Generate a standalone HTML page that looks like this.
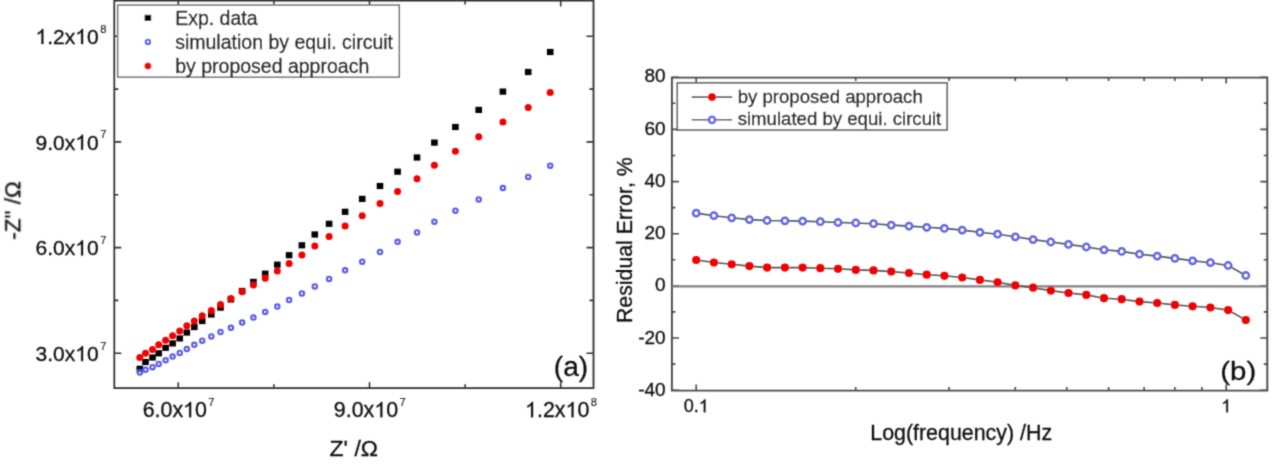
<!DOCTYPE html>
<html><head><meta charset="utf-8"><style>
html,body{margin:0;padding:0;background:#fff;}
body{width:1280px;height:464px;overflow:hidden;}
svg{display:block;}
text{font-family:"Liberation Sans",sans-serif;fill:#111;stroke:#111;stroke-width:0.3px;}
.g1{fill:#111;stroke:#111;stroke-width:0.3px;}
</style></head><body>
<svg width="1280" height="464" viewBox="0 0 1280 464">
<defs><filter id="bl" x="0" y="0" width="1280" height="464" filterUnits="userSpaceOnUse"><feConvolveMatrix order="3" kernelMatrix="0.02768 0.11101 0.02768 0.11101 0.44521 0.11101 0.02768 0.11101 0.02768" edgeMode="duplicate" preserveAlpha="false"/></filter></defs>
<rect width="1280" height="464" fill="#fff"/>
<g filter="url(#bl)">
<path d="M114.3 0.5V388.2H593.5V0.5Z" fill="none" stroke="#333" stroke-width="1.8"/>
<path d="M114.3 353.3h7M593.5 353.3h-7M114.3 247.6h7M593.5 247.6h-7M114.3 141.9h7M593.5 141.9h-7M114.3 36.2h7M593.5 36.2h-7M114.3 300.4h4M593.5 300.4h-4M114.3 194.8h4M593.5 194.8h-4M114.3 89.1h4M593.5 89.1h-4M178.3 388.2v-6M178.3 0.5v6M369.5 388.2v-6M369.5 0.5v6M560.7 388.2v-6M560.7 0.5v6M273.9 388.2v-4M273.9 0.5v4M465.1 388.2v-4M465.1 0.5v4" stroke="#333" stroke-width="1.6" fill="none"/>
<text x="35.52 47.20 53.03 64.71 86.89" y="361.10" font-size="21">3.0x0</text><text x="100.17" y="349.80" font-size="11.2" style="stroke-width:0.1px">7</text><path class="g1" d="M83.03 361.10L81.19 361.10L81.19 349.34L80.52 349.97L79.44 350.61L78.36 351.25L77.50 351.61L77.50 349.83L79.03 349.10L80.19 348.07L81.35 347.03L81.83 346.07L83.03 346.07Z"/>
<text x="35.52 47.20 53.03 64.71 86.89" y="255.40" font-size="21">6.0x0</text><text x="100.17" y="244.10" font-size="11.2" style="stroke-width:0.1px">7</text><path class="g1" d="M83.03 255.40L81.19 255.40L81.19 243.64L80.52 244.27L79.44 244.91L78.36 245.55L77.50 245.91L77.50 244.13L79.03 243.40L80.19 242.37L81.35 241.33L81.83 240.37L83.03 240.37Z"/>
<text x="35.52 47.20 53.03 64.71 86.89" y="149.70" font-size="21">9.0x0</text><text x="100.17" y="138.40" font-size="11.2" style="stroke-width:0.1px">7</text><path class="g1" d="M83.03 149.70L81.19 149.70L81.19 137.94L80.52 138.57L79.44 139.21L78.36 139.85L77.50 140.21L77.50 138.43L79.03 137.70L80.19 136.67L81.35 135.63L81.83 134.67L83.03 134.67Z"/>
<text x="47.20 53.03 64.71 86.89" y="44.00" font-size="21">.2x0</text><text x="100.17" y="32.70" font-size="11.2" style="stroke-width:0.1px">8</text><path class="g1" d="M43.34 44.00L41.49 44.00L41.49 32.24L40.83 32.87L39.74 33.51L38.66 34.15L37.80 34.51L37.80 32.73L39.34 32.00L40.50 30.97L41.66 29.93L42.14 28.97L43.34 28.97ZM83.03 44.00L81.19 44.00L81.19 32.24L80.52 32.87L79.44 33.51L78.36 34.15L77.50 34.51L77.50 32.73L79.03 32.00L80.19 30.97L81.35 29.93L81.83 28.97L83.03 28.97Z"/>
<text x="142.66 154.56 160.51 172.41 195.01" y="417.20" font-size="21.4">6.0x0</text><text x="208.31" y="406.00" font-size="11.2" style="stroke-width:0.1px">7</text><path class="g1" d="M191.08 417.20L189.20 417.20L189.20 405.21L188.52 405.86L187.41 406.51L186.32 407.16L185.44 407.53L185.44 405.72L187.00 404.97L188.19 403.92L189.37 402.86L189.86 401.88L191.08 401.88Z"/>
<text x="333.86 345.76 351.71 363.61 386.21" y="417.20" font-size="21.4">9.0x0</text><text x="399.51" y="406.00" font-size="11.2" style="stroke-width:0.1px">7</text><path class="g1" d="M382.28 417.20L380.40 417.20L380.40 405.21L379.72 405.86L378.61 406.51L377.52 407.16L376.64 407.53L376.64 405.72L378.20 404.97L379.39 403.92L380.57 402.86L381.06 401.88L382.28 401.88Z"/>
<text x="536.96 542.91 554.81 577.41" y="417.20" font-size="21.4">.2x0</text><text x="590.71" y="406.00" font-size="11.2" style="stroke-width:0.1px">8</text><path class="g1" d="M533.03 417.20L531.15 417.20L531.15 405.21L530.47 405.86L529.36 406.51L528.27 407.16L527.39 407.53L527.39 405.72L528.95 404.97L530.14 403.92L531.32 402.86L531.81 401.88L533.03 401.88ZM573.48 417.20L571.60 417.20L571.60 405.21L570.92 405.86L569.81 406.51L568.72 407.16L567.84 407.53L567.84 405.72L569.40 404.97L570.59 403.92L571.77 402.86L572.26 401.88L573.48 401.88Z"/>
<text x="353.8" y="456.4" text-anchor="middle" font-size="22.6" textLength="48.5" lengthAdjust="spacingAndGlyphs">Z' /&#937;</text>
<text transform="translate(20.3 210.5) rotate(-90)" text-anchor="middle" font-size="22.5" textLength="58.5" lengthAdjust="spacingAndGlyphs">-Z" /&#937;</text>
<text transform="translate(571 376.2) scale(1.02 1.0)" text-anchor="middle" font-size="27.5">(a)</text>
<rect x="117.7" y="5.1" width="281.6" height="72.0" fill="#fff" stroke="#6a6a6a" stroke-width="1.4"/>
<rect x="144.6" y="14.8" width="6.6" height="6.2" fill="#000"/>
<circle cx="147.9" cy="41.9" r="2.2" fill="none" stroke="#5a5ae6" stroke-width="2.1"/>
<circle cx="147.9" cy="66" r="3.5" fill="#f00000"/>
<g font-size="19.5"><text x="175.2" y="25.2">Exp. data</text><text x="175.2" y="49.3">simulation by equi. circuit</text><text x="175.2" y="73.3">by proposed approach</text></g>
<g fill="#000"><rect x="136.5" y="365.7" width="6.6" height="6.2"/><rect x="142.2" y="358.9" width="6.6" height="6.2"/><rect x="149.2" y="354.4" width="6.6" height="6.2"/><rect x="155.4" y="350.2" width="6.6" height="6.2"/><rect x="162.3" y="344.7" width="6.6" height="6.2"/><rect x="169.3" y="340.3" width="6.6" height="6.2"/><rect x="176.4" y="335.3" width="6.6" height="6.2"/><rect x="183.5" y="329.4" width="6.6" height="6.2"/><rect x="191.0" y="323.9" width="6.6" height="6.2"/><rect x="198.9" y="317.9" width="6.6" height="6.2"/><rect x="208.0" y="311.4" width="6.6" height="6.2"/><rect x="217.2" y="304.5" width="6.6" height="6.2"/><rect x="227.6" y="296.4" width="6.6" height="6.2"/><rect x="238.8" y="287.9" width="6.6" height="6.2"/><rect x="250.1" y="278.8" width="6.6" height="6.2"/><rect x="261.9" y="270.6" width="6.6" height="6.2"/><rect x="274.0" y="261.6" width="6.6" height="6.2"/><rect x="285.8" y="252.1" width="6.6" height="6.2"/><rect x="298.6" y="242.2" width="6.6" height="6.2"/><rect x="311.5" y="231.4" width="6.6" height="6.2"/><rect x="325.8" y="220.7" width="6.6" height="6.2"/><rect x="341.8" y="208.7" width="6.6" height="6.2"/><rect x="358.9" y="195.8" width="6.6" height="6.2"/><rect x="376.7" y="182.9" width="6.6" height="6.2"/><rect x="394.3" y="168.6" width="6.6" height="6.2"/><rect x="413.7" y="154.4" width="6.6" height="6.2"/><rect x="431.1" y="139.5" width="6.6" height="6.2"/><rect x="452.1" y="123.9" width="6.6" height="6.2"/><rect x="475.4" y="106.8" width="6.6" height="6.2"/><rect x="499.6" y="88.5" width="6.6" height="6.2"/><rect x="524.9" y="68.9" width="6.6" height="6.2"/><rect x="546.9" y="48.9" width="6.6" height="6.2"/></g>
<g fill="none" stroke="#5a5ae6" stroke-width="2.1"><circle cx="139.8" cy="372.5" r="2.2"/><circle cx="145.5" cy="369.7" r="2.2"/><circle cx="152.5" cy="367.2" r="2.2"/><circle cx="158.7" cy="363.9" r="2.2"/><circle cx="165.6" cy="360.3" r="2.2"/><circle cx="172.6" cy="356.6" r="2.2"/><circle cx="179.7" cy="352.9" r="2.2"/><circle cx="186.8" cy="349.1" r="2.2"/><circle cx="194.3" cy="344.8" r="2.2"/><circle cx="202.2" cy="340.7" r="2.2"/><circle cx="211.3" cy="336.4" r="2.2"/><circle cx="220.5" cy="332.0" r="2.2"/><circle cx="230.9" cy="327.8" r="2.2"/><circle cx="242.1" cy="322.6" r="2.2"/><circle cx="253.4" cy="317.6" r="2.2"/><circle cx="265.2" cy="311.9" r="2.2"/><circle cx="277.3" cy="306.6" r="2.2"/><circle cx="289.1" cy="300.0" r="2.2"/><circle cx="301.9" cy="293.5" r="2.2"/><circle cx="314.8" cy="286.4" r="2.2"/><circle cx="329.1" cy="278.9" r="2.2"/><circle cx="345.1" cy="270.3" r="2.2"/><circle cx="362.2" cy="261.7" r="2.2"/><circle cx="380.0" cy="252.0" r="2.2"/><circle cx="397.6" cy="241.8" r="2.2"/><circle cx="417.0" cy="232.5" r="2.2"/><circle cx="434.4" cy="221.7" r="2.2"/><circle cx="455.4" cy="210.7" r="2.2"/><circle cx="478.7" cy="199.5" r="2.2"/><circle cx="502.9" cy="188.1" r="2.2"/><circle cx="528.2" cy="176.9" r="2.2"/><circle cx="550.2" cy="165.7" r="2.2"/></g>
<g fill="#f00000"><circle cx="139.8" cy="357.5" r="3.5"/><circle cx="145.5" cy="353.3" r="3.5"/><circle cx="152.5" cy="349.5" r="3.5"/><circle cx="158.7" cy="344.7" r="3.5"/><circle cx="165.6" cy="340.2" r="3.5"/><circle cx="172.6" cy="335.8" r="3.5"/><circle cx="179.7" cy="331.0" r="3.5"/><circle cx="186.8" cy="325.8" r="3.5"/><circle cx="194.3" cy="320.9" r="3.5"/><circle cx="202.2" cy="315.7" r="3.5"/><circle cx="211.3" cy="310.4" r="3.5"/><circle cx="220.5" cy="304.4" r="3.5"/><circle cx="230.9" cy="298.4" r="3.5"/><circle cx="242.1" cy="291.7" r="3.5"/><circle cx="253.4" cy="285.1" r="3.5"/><circle cx="265.2" cy="278.2" r="3.5"/><circle cx="277.3" cy="271.1" r="3.5"/><circle cx="289.1" cy="263.6" r="3.5"/><circle cx="301.9" cy="255.0" r="3.5"/><circle cx="314.8" cy="245.9" r="3.5"/><circle cx="329.1" cy="236.5" r="3.5"/><circle cx="345.1" cy="226.0" r="3.5"/><circle cx="362.2" cy="215.7" r="3.5"/><circle cx="380.0" cy="203.5" r="3.5"/><circle cx="397.6" cy="191.6" r="3.5"/><circle cx="417.0" cy="178.7" r="3.5"/><circle cx="434.4" cy="165.2" r="3.5"/><circle cx="455.4" cy="151.2" r="3.5"/><circle cx="478.7" cy="136.7" r="3.5"/><circle cx="502.9" cy="122.1" r="3.5"/><circle cx="528.2" cy="107.6" r="3.5"/><circle cx="550.2" cy="92.6" r="3.5"/></g>
<path d="M671.9 77.6V390.6H1267.3V77.6Z" fill="none" stroke="#4a4a4a" stroke-width="1.9"/>
<path d="M671.9 390.2h7M1267.3 390.2h-7M671.9 338.0h7M1267.3 338.0h-7M671.9 285.9h7M1267.3 285.9h-7M671.9 233.7h7M1267.3 233.7h-7M671.9 181.6h7M1267.3 181.6h-7M671.9 129.4h7M1267.3 129.4h-7M671.9 77.3h7M1267.3 77.3h-7M671.9 364.1h3.5M1267.3 364.1h-3.5M671.9 311.9h3.5M1267.3 311.9h-3.5M671.9 259.8h3.5M1267.3 259.8h-3.5M671.9 207.6h3.5M1267.3 207.6h-3.5M671.9 155.5h3.5M1267.3 155.5h-3.5M671.9 103.3h3.5M1267.3 103.3h-3.5M696.2 390.6v-6M696.2 77.6v6M1226.2 390.6v-6M1226.2 77.6v6M855.7 390.6v-3.5M855.7 77.6v3.5M949.1 390.6v-3.5M949.1 77.6v3.5M1015.3 390.6v-3.5M1015.3 77.6v3.5M1066.7 390.6v-3.5M1066.7 77.6v3.5M1108.6 390.6v-3.5M1108.6 77.6v3.5M1144.1 390.6v-3.5M1144.1 77.6v3.5M1174.8 390.6v-3.5M1174.8 77.6v3.5M1201.9 390.6v-3.5M1201.9 77.6v3.5" stroke="#4a4a4a" stroke-width="1.6" fill="none"/>
<path d="M671.9 286.4H1267.3" stroke="#808080" stroke-width="2.2"/>
<text x="665.6" y="395.7" text-anchor="end" font-size="19">-40</text>
<text x="665.6" y="343.5" text-anchor="end" font-size="19">-20</text>
<text x="665.6" y="291.4" text-anchor="end" font-size="19">0</text>
<text x="665.6" y="239.2" text-anchor="end" font-size="19">20</text>
<text x="665.6" y="187.1" text-anchor="end" font-size="19">40</text>
<text x="665.6" y="134.9" text-anchor="end" font-size="19">60</text>
<text x="665.6" y="81.6" text-anchor="end" font-size="19">80</text>
<text x="683.69 693.70" y="412.20" font-size="18">0.</text><path class="g1" d="M705.41 412.20L703.82 412.20L703.82 402.12L703.25 402.66L702.32 403.21L701.40 403.75L700.66 404.07L700.66 402.54L701.98 401.92L702.97 401.03L703.97 400.14L704.38 399.32L705.41 399.32Z"/>
<path class="g1" d="M1227.90 412.20L1226.32 412.20L1226.32 402.12L1225.75 402.66L1224.82 403.21L1223.89 403.75L1223.15 404.07L1223.15 402.54L1224.47 401.92L1225.47 401.03L1226.46 400.14L1226.87 399.32L1227.90 399.32Z"/>
<text x="961.2" y="440" text-anchor="middle" font-size="21.4">Log(frequency) /Hz</text>
<text transform="translate(632.3 240.2) rotate(-90)" text-anchor="middle" font-size="21.3">Residual Error, %</text>
<text transform="translate(1238.3 379.8) scale(1.09 0.95)" text-anchor="middle" font-size="27">(b)</text>
<path d="M696.2 260.0L713.9 262.5L731.7 264.3L749.4 266.1L767.1 267.6L784.9 267.6L802.6 267.6L820.3 268.2L838.0 268.8L855.8 269.9L873.5 270.4L891.2 271.6L909.0 273.0L926.7 274.7L944.4 275.8L962.2 277.5L979.9 279.9L997.6 282.3L1015.3 285.4L1033.1 287.7L1050.8 290.6L1068.5 293.0L1086.3 294.9L1104.0 298.2L1121.7 299.2L1139.5 301.6L1157.2 303.0L1174.9 304.9L1192.6 306.3L1210.4 307.5L1228.1 310.1L1245.8 320.1" fill="none" stroke="#555" stroke-width="1.6"/>
<path d="M696.2 213.1L713.9 215.7L731.7 217.8L749.4 219.6L767.1 220.5L784.9 220.8L802.6 221.1L820.3 221.7L838.0 222.5L855.8 223.0L873.5 223.7L891.2 225.1L909.0 226.1L926.7 227.3L944.4 228.4L962.2 230.1L979.9 232.3L997.6 234.2L1015.3 236.8L1033.1 239.6L1050.8 242.0L1068.5 244.4L1086.3 247.0L1104.0 249.8L1121.7 251.4L1139.5 254.2L1157.2 256.1L1174.9 258.4L1192.6 260.8L1210.4 262.7L1228.1 265.5L1245.8 275.5" fill="none" stroke="#555" stroke-width="1.6"/>
<g fill="#f00000"><circle cx="696.2" cy="260.0" r="4.1"/><circle cx="713.9" cy="262.5" r="4.1"/><circle cx="731.7" cy="264.3" r="4.1"/><circle cx="749.4" cy="266.1" r="4.1"/><circle cx="767.1" cy="267.6" r="4.1"/><circle cx="784.9" cy="267.6" r="4.1"/><circle cx="802.6" cy="267.6" r="4.1"/><circle cx="820.3" cy="268.2" r="4.1"/><circle cx="838.0" cy="268.8" r="4.1"/><circle cx="855.8" cy="269.9" r="4.1"/><circle cx="873.5" cy="270.4" r="4.1"/><circle cx="891.2" cy="271.6" r="4.1"/><circle cx="909.0" cy="273.0" r="4.1"/><circle cx="926.7" cy="274.7" r="4.1"/><circle cx="944.4" cy="275.8" r="4.1"/><circle cx="962.2" cy="277.5" r="4.1"/><circle cx="979.9" cy="279.9" r="4.1"/><circle cx="997.6" cy="282.3" r="4.1"/><circle cx="1015.3" cy="285.4" r="4.1"/><circle cx="1033.1" cy="287.7" r="4.1"/><circle cx="1050.8" cy="290.6" r="4.1"/><circle cx="1068.5" cy="293.0" r="4.1"/><circle cx="1086.3" cy="294.9" r="4.1"/><circle cx="1104.0" cy="298.2" r="4.1"/><circle cx="1121.7" cy="299.2" r="4.1"/><circle cx="1139.5" cy="301.6" r="4.1"/><circle cx="1157.2" cy="303.0" r="4.1"/><circle cx="1174.9" cy="304.9" r="4.1"/><circle cx="1192.6" cy="306.3" r="4.1"/><circle cx="1210.4" cy="307.5" r="4.1"/><circle cx="1228.1" cy="310.1" r="4.1"/><circle cx="1245.8" cy="320.1" r="4.1"/></g>
<g fill="#fff" stroke="#6262e2" stroke-width="2.5"><circle cx="696.2" cy="213.1" r="3.15"/><circle cx="713.9" cy="215.7" r="3.15"/><circle cx="731.7" cy="217.8" r="3.15"/><circle cx="749.4" cy="219.6" r="3.15"/><circle cx="767.1" cy="220.5" r="3.15"/><circle cx="784.9" cy="220.8" r="3.15"/><circle cx="802.6" cy="221.1" r="3.15"/><circle cx="820.3" cy="221.7" r="3.15"/><circle cx="838.0" cy="222.5" r="3.15"/><circle cx="855.8" cy="223.0" r="3.15"/><circle cx="873.5" cy="223.7" r="3.15"/><circle cx="891.2" cy="225.1" r="3.15"/><circle cx="909.0" cy="226.1" r="3.15"/><circle cx="926.7" cy="227.3" r="3.15"/><circle cx="944.4" cy="228.4" r="3.15"/><circle cx="962.2" cy="230.1" r="3.15"/><circle cx="979.9" cy="232.3" r="3.15"/><circle cx="997.6" cy="234.2" r="3.15"/><circle cx="1015.3" cy="236.8" r="3.15"/><circle cx="1033.1" cy="239.6" r="3.15"/><circle cx="1050.8" cy="242.0" r="3.15"/><circle cx="1068.5" cy="244.4" r="3.15"/><circle cx="1086.3" cy="247.0" r="3.15"/><circle cx="1104.0" cy="249.8" r="3.15"/><circle cx="1121.7" cy="251.4" r="3.15"/><circle cx="1139.5" cy="254.2" r="3.15"/><circle cx="1157.2" cy="256.1" r="3.15"/><circle cx="1174.9" cy="258.4" r="3.15"/><circle cx="1192.6" cy="260.8" r="3.15"/><circle cx="1210.4" cy="262.7" r="3.15"/><circle cx="1228.1" cy="265.5" r="3.15"/><circle cx="1245.8" cy="275.5" r="3.15"/></g>
<rect x="677.3" y="82.9" width="269.8" height="47.1" fill="#fff" stroke="#555" stroke-width="1.5"/>
<path d="M691.7 97.1H732.2M691.7 119.8H732.2" stroke="#555" stroke-width="1.6"/>
<circle cx="712" cy="97.1" r="4.1" fill="#f00000"/>
<circle cx="712" cy="119.8" r="3.15" fill="#fff" stroke="#6262e2" stroke-width="2.5"/>
<g font-size="18.6"><text x="737.7" y="103.2">by proposed approach</text><text x="737.7" y="125.4">simulated by equi. circuit</text></g>
</g>
</svg>
</body></html>
